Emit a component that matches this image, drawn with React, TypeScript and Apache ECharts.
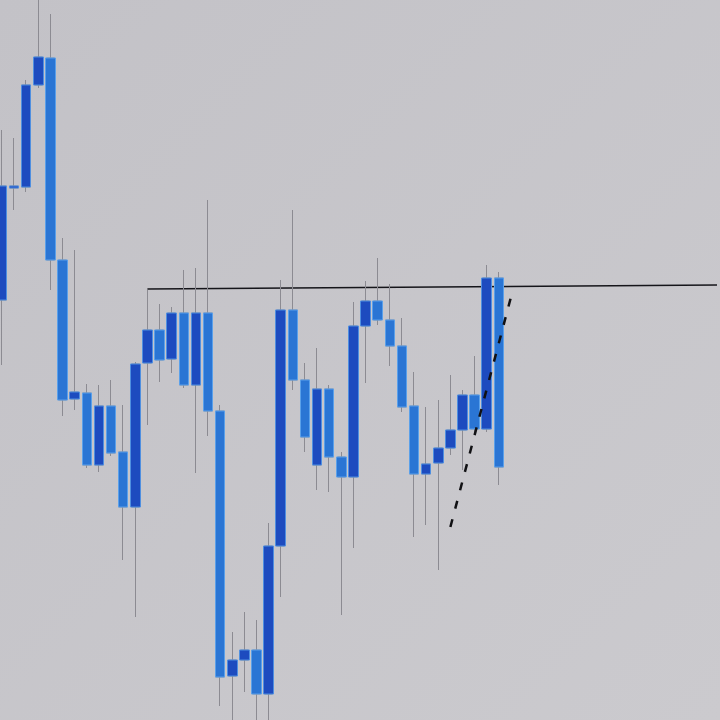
import React, { useEffect, useRef } from "react";
import * as echarts from "echarts";

// OHLC values (arbitrary price units)
const opens = [420, 532, 533, 635, 662, 460, 321, 327, 255, 314, 268, 213, 357, 390, 361, 407, 335, 407, 309, 44, 60, 70, 26, 174, 410, 340, 255, 331, 263, 243, 394, 419, 400, 374, 314, 246, 257, 272, 290, 325, 291, 442];
const closes = [534, 534, 635, 663, 460, 320, 328, 255, 314, 267, 213, 356, 390, 360, 407, 335, 407, 309, 43, 60, 70, 26, 174, 410, 340, 283, 331, 263, 243, 394, 419, 400, 374, 313, 246, 256, 272, 290, 325, 291, 442, 253];
const highs = [590, 582, 640, 725, 706, 482, 470, 336, 335, 340, 315, 358, 430, 416, 413, 450, 452, 520, 315, 88, 108, 100, 197, 440, 510, 357, 372, 335, 268, 418, 439, 462, 436, 402, 348, 313, 320, 345, 330, 364, 455, 448];
const lows = [355, 510, 528, 632, 430, 304, 310, 252, 248, 264, 160, 103, 295, 338, 347, 332, 247, 284, 14, -5, 28, -5, -5, 123, 330, 268, 230, 228, 105, 172, 337, 395, 354, 308, 183, 195, 150, 265, 250, 288, 288, 235];

const slotCount = 60;
const categories = Array.from({ length: slotCount }, (_, i) => String(i + 1));

// resistance line: [slot, price]
const resistance = [[12, 431], [59.3, 435]];
// dashed trend line: [slot, price]
const trend = [[37, 193], [42, 423]];

const DARK = "#1d4bbf";
const LIGHT = "#2a75d4";

export default function App() {
  const ref = useRef<HTMLDivElement>(null);
  useEffect(() => {
    if (!ref.current) return;
    const chart = echarts.init(ref.current, null, { renderer: "svg" });
    const full = opens.map((o, i) => [o, closes[i], lows[i], highs[i]]);
    const bodies = opens.map((o, i) => [o, closes[i], Math.min(o, closes[i]), Math.max(o, closes[i])]);
    chart.setOption({
      animation: false,
      backgroundColor: {
        type: "linear", x: 0, y: 0, x2: 1, y2: 1,
        colorStops: [
          { offset: 0, color: "#c3c2c7" },
          { offset: 1, color: "#cbcace" },
        ],
      },
      grid: { left: 2, right: 3, top: 0, bottom: 0, containLabel: false },
      xAxis: {
        type: "category",
        data: categories,
        boundaryGap: false,
        show: false,
      },
      yAxis: { type: "value", min: 0, max: 720, show: false },
      series: [
        {
          type: "candlestick",
          data: full,
          barWidth: 9,
          clip: false,
          itemStyle: {
            color: "#8c8b92",
            color0: "#8c8b92",
            borderColor: "#8c8b92",
            borderColor0: "#8c8b92",
            borderWidth: 1,
          },
          z: 2,
        },
        {
          type: "candlestick",
          data: bodies,
          barWidth: 10,
          clip: false,
          itemStyle: {
            color: DARK,
            color0: LIGHT,
            borderColor: "#4f8fe0",
            borderColor0: "#5aa0ea",
            borderWidth: 1,
          },
          z: 3,
        },
        {
          type: "line",
          data: resistance,
          symbol: "none",
          lineStyle: { color: "#15151a", width: 1.5 },
          clip: false,
          z: 1,
        },
        {
          type: "line",
          data: trend,
          symbol: "none",
          lineStyle: { color: "#111114", width: 2.5, type: [8, 11] },
          clip: false,
          z: 4,
        },
      ],
    });
    return () => chart.dispose();
  }, []);
  return (
    <div
      ref={ref}
      style={{ position: "fixed", left: 0, top: 0, width: 720, height: 720 }}
    />
  );
}
